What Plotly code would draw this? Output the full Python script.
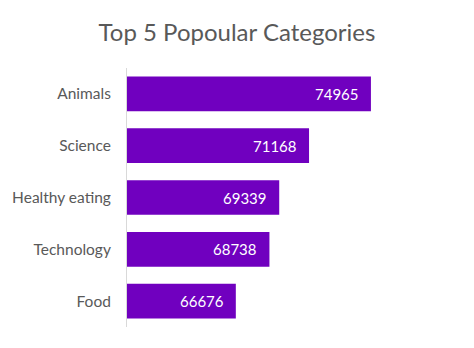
import plotly.graph_objects as go

categories = ["Animals", "Science", "Healthy eating", "Technology", "Food"]
values = [74965, 71168, 69339, 68738, 66676]
title_text = "Top 5 Popoular Categories"

BAR = "#7000BF"
FONT = "Lato, 'Open Sans', sans-serif"

fig = go.Figure(
    go.Bar(
        x=values,
        y=categories,
        orientation="h",
        marker=dict(color=BAR, line=dict(width=0)),
    )
)

for c, v in zip(categories, values):
    fig.add_annotation(
        x=v, y=c, xref="x", yref="y",
        text=str(v), showarrow=False,
        xanchor="right", xshift=-10,
        font=dict(family=FONT, size=15, color="white"),
    )

fig.update_layout(
    width=474, height=348,
    margin=dict(l=127, r=21, t=68, b=21),
    paper_bgcolor="white", plot_bgcolor="white",
    bargap=0.33,
    showlegend=False,
    title=dict(text=title_text, x=0.5, xanchor="center", y=0.905, yanchor="middle",
               font=dict(family=FONT, size=24, color="#595959")),
    font=dict(family=FONT, color="#595959"),
)
fig.update_xaxes(range=[60000, 80000], showticklabels=False, showgrid=False,
                 zeroline=False, showline=False, ticks="", automargin=False)
fig.update_yaxes(autorange="reversed", showgrid=False, zeroline=False,
                 showline=True, linecolor="#d9d9d9", linewidth=1, ticks="",
                 ticklabelstandoff=12, automargin=False,
                 tickfont=dict(family=FONT, size=15.5, color="#595959"))

fig.write_html("out.html")
